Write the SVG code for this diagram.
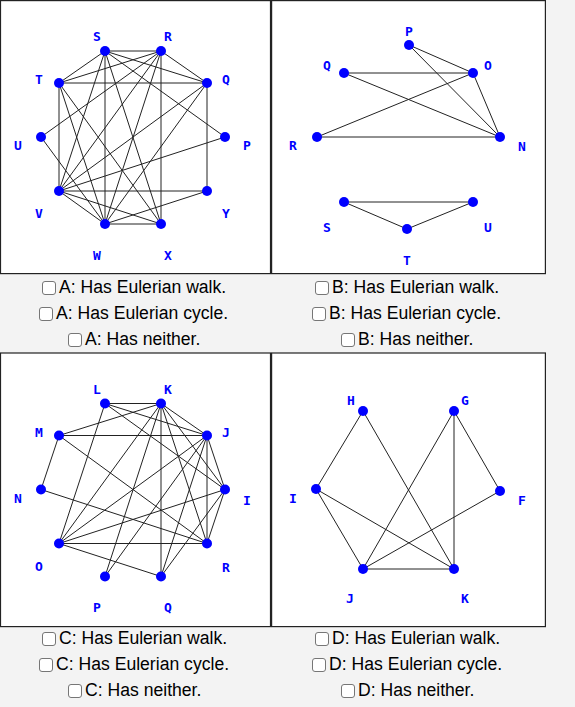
<svg xmlns="http://www.w3.org/2000/svg" width="575" height="707" viewBox="0 0 575 707">
<defs>
<style>
.bg{fill:#f3f3f3}
.panel{fill:#ffffff;stroke:#222;stroke-width:1.2}
.e line{stroke:#222;stroke-width:1}
.n circle{fill:#0000ff}
.n text{fill:#0000ff;font-family:"DejaVu Sans Mono",monospace;font-weight:bold;font-size:13px;text-anchor:middle;dominant-baseline:central}
.cb{fill:#fff;stroke:#767676;stroke-width:1}
.opt{font-family:"Liberation Sans",Arial,sans-serif;font-size:17.6px;fill:#000}
</style>
</defs>
<rect class="bg" x="0" y="0" width="575" height="707"/>
<rect class="panel" x="0.5" y="0.6" width="270" height="273"/>
<rect class="panel" x="271.6" y="0.6" width="273.8" height="273"/>
<rect class="panel" x="0.5" y="353" width="270" height="273.6"/>
<rect class="panel" x="271.6" y="353" width="273.8" height="273.6"/>

<!-- Panel A connectors -->
<g id="edges-A" class="e">
<line x1="105" y1="51" x2="161" y2="51"/>
<line x1="59" y1="83" x2="207" y2="83"/>
<line x1="59" y1="191" x2="207" y2="191"/>
<line x1="105" y1="224" x2="161" y2="224"/>
<line x1="59" y1="83" x2="59" y2="191"/>
<line x1="207" y1="83" x2="207" y2="191"/>
<line x1="105" y1="51" x2="105" y2="224"/>
<line x1="161" y1="51" x2="161" y2="224"/>
<line x1="105" y1="51" x2="59" y2="83"/>
<line x1="161" y1="51" x2="59" y2="83"/>
<line x1="105" y1="51" x2="207" y2="83"/>
<line x1="161" y1="51" x2="207" y2="83"/>
<line x1="41" y1="137" x2="161" y2="51"/>
<line x1="41" y1="137" x2="105" y2="224"/>
<line x1="105" y1="51" x2="225" y2="137"/>
<line x1="225" y1="137" x2="59" y2="191"/>
<line x1="59" y1="83" x2="105" y2="224"/>
<line x1="59" y1="83" x2="161" y2="224"/>
<line x1="59" y1="191" x2="105" y2="224"/>
<line x1="59" y1="191" x2="161" y2="224"/>
<line x1="59" y1="191" x2="105" y2="51"/>
<line x1="59" y1="191" x2="161" y2="51"/>
<line x1="59" y1="191" x2="207" y2="83"/>
<line x1="105" y1="224" x2="207" y2="191"/>
<line x1="105" y1="224" x2="207" y2="83"/>
<line x1="105" y1="224" x2="161" y2="51"/>
<line x1="161" y1="224" x2="105" y2="51"/>
</g>

<!-- Panel B connectors -->
<g id="edges-B" class="e">
<line x1="344" y1="73" x2="473" y2="73"/>
<line x1="344" y1="73" x2="500" y2="137"/>
<line x1="409" y1="45" x2="473" y2="73"/>
<line x1="409" y1="45" x2="500" y2="137"/>
<line x1="473" y1="73" x2="317" y2="137"/>
<line x1="473" y1="73" x2="500" y2="137"/>
<line x1="317" y1="137" x2="500" y2="137"/>
<line x1="344" y1="202" x2="473" y2="202"/>
<line x1="344" y1="202" x2="407" y2="229"/>
<line x1="407" y1="229" x2="473" y2="202"/>
</g>

<!-- Panel C connectors -->
<g id="edges-C" class="e">
<line x1="105" y1="403.5" x2="161" y2="403.5"/>
<line x1="59" y1="435.5" x2="207" y2="435.5"/>
<line x1="59" y1="543.5" x2="207" y2="543.5"/>
<line x1="161" y1="403.5" x2="161" y2="576.5"/>
<line x1="207" y1="435.5" x2="207" y2="543.5"/>
<line x1="59" y1="435.5" x2="41" y2="489.5"/>
<line x1="41" y1="489.5" x2="207" y2="543.5"/>
<line x1="59" y1="435.5" x2="207" y2="543.5"/>
<line x1="59" y1="435.5" x2="161" y2="403.5"/>
<line x1="105" y1="403.5" x2="207" y2="435.5"/>
<line x1="105" y1="403.5" x2="225" y2="489.5"/>
<line x1="105" y1="403.5" x2="59" y2="543.5"/>
<line x1="161" y1="403.5" x2="207" y2="435.5"/>
<line x1="161" y1="403.5" x2="225" y2="489.5"/>
<line x1="161" y1="403.5" x2="207" y2="543.5"/>
<line x1="161" y1="403.5" x2="105" y2="576.5"/>
<line x1="161" y1="403.5" x2="59" y2="543.5"/>
<line x1="207" y1="435.5" x2="225" y2="489.5"/>
<line x1="207" y1="435.5" x2="59" y2="543.5"/>
<line x1="207" y1="435.5" x2="105" y2="576.5"/>
<line x1="207" y1="435.5" x2="161" y2="576.5"/>
<line x1="225" y1="489.5" x2="59" y2="543.5"/>
<line x1="225" y1="489.5" x2="161" y2="576.5"/>
<line x1="225" y1="489.5" x2="207" y2="543.5"/>
<line x1="59" y1="543.5" x2="161" y2="576.5"/>
</g>

<!-- Panel D connectors -->
<g id="edges-D" class="e">
<line x1="363" y1="411" x2="316" y2="489"/>
<line x1="363" y1="411" x2="454" y2="569"/>
<line x1="454" y1="411" x2="363" y2="569"/>
<line x1="454" y1="411" x2="454" y2="569"/>
<line x1="454" y1="411" x2="500" y2="491"/>
<line x1="316" y1="489" x2="363" y2="569"/>
<line x1="316" y1="489" x2="454" y2="569"/>
<line x1="500" y1="491" x2="363" y2="569"/>
<line x1="363" y1="569" x2="454" y2="569"/>
</g>

<!-- Panel A nodes -->
<g id="A-S" class="n"><circle cx="105" cy="51" r="5"/><text x="97" y="36">S</text></g>
<g id="A-R" class="n"><circle cx="161" cy="51" r="5"/><text x="168" y="36">R</text></g>
<g id="A-T" class="n"><circle cx="59" cy="83" r="5"/><text x="39" y="79">T</text></g>
<g id="A-Q" class="n"><circle cx="207" cy="83" r="5"/><text x="226" y="79">Q</text></g>
<g id="A-U" class="n"><circle cx="41" cy="137" r="5"/><text x="18" y="145">U</text></g>
<g id="A-P" class="n"><circle cx="225" cy="137" r="5"/><text x="247" y="145">P</text></g>
<g id="A-V" class="n"><circle cx="59" cy="191" r="5"/><text x="39" y="213">V</text></g>
<g id="A-Y" class="n"><circle cx="207" cy="191" r="5"/><text x="226" y="213">Y</text></g>
<g id="A-W" class="n"><circle cx="105" cy="224" r="5"/><text x="97" y="255">W</text></g>
<g id="A-X" class="n"><circle cx="161" cy="224" r="5"/><text x="168" y="255">X</text></g>

<!-- Panel B nodes -->
<g id="B-P" class="n"><circle cx="409" cy="45" r="5"/><text x="409" y="31">P</text></g>
<g id="B-Q" class="n"><circle cx="344" cy="73" r="5"/><text x="327" y="65">Q</text></g>
<g id="B-O" class="n"><circle cx="473" cy="73" r="5"/><text x="488" y="65">O</text></g>
<g id="B-R" class="n"><circle cx="317" cy="137" r="5"/><text x="293" y="145">R</text></g>
<g id="B-N" class="n"><circle cx="500" cy="137" r="5"/><text x="522" y="146">N</text></g>
<g id="B-S" class="n"><circle cx="344" cy="202" r="5"/><text x="327" y="227">S</text></g>
<g id="B-U" class="n"><circle cx="473" cy="202" r="5"/><text x="488" y="227">U</text></g>
<g id="B-T" class="n"><circle cx="407" cy="229" r="5"/><text x="407" y="260">T</text></g>

<!-- Panel C nodes -->
<g id="C-L" class="n"><circle cx="105" cy="403.5" r="5"/><text x="97" y="389">L</text></g>
<g id="C-K" class="n"><circle cx="161" cy="403.5" r="5"/><text x="168" y="389">K</text></g>
<g id="C-M" class="n"><circle cx="59" cy="435.5" r="5"/><text x="39" y="432">M</text></g>
<g id="C-J" class="n"><circle cx="207" cy="435.5" r="5"/><text x="226" y="432">J</text></g>
<g id="C-N" class="n"><circle cx="41" cy="489.5" r="5"/><text x="18" y="498">N</text></g>
<g id="C-I" class="n"><circle cx="225" cy="489.5" r="5"/><text x="247" y="500">I</text></g>
<g id="C-O" class="n"><circle cx="59" cy="543.5" r="5"/><text x="39" y="566">O</text></g>
<g id="C-R" class="n"><circle cx="207" cy="543.5" r="5"/><text x="226" y="567">R</text></g>
<g id="C-P" class="n"><circle cx="105" cy="576.5" r="5"/><text x="97" y="607">P</text></g>
<g id="C-Q" class="n"><circle cx="161" cy="576.5" r="5"/><text x="168" y="607">Q</text></g>

<!-- Panel D nodes -->
<g id="D-H" class="n"><circle cx="363" cy="411" r="5"/><text x="351" y="400">H</text></g>
<g id="D-G" class="n"><circle cx="454" cy="411" r="5"/><text x="465" y="400">G</text></g>
<g id="D-I" class="n"><circle cx="316" cy="489" r="5"/><text x="293" y="498">I</text></g>
<g id="D-F" class="n"><circle cx="500" cy="491" r="5"/><text x="522" y="500">F</text></g>
<g id="D-J" class="n"><circle cx="363" cy="569" r="5"/><text x="350" y="598">J</text></g>
<g id="D-K" class="n"><circle cx="454" cy="569" r="5"/><text x="465" y="598">K</text></g>

<!-- Options -->
<g id="options-A">
<rect class="cb" x="42.5" y="281.5" width="13" height="13" rx="2.5"/><text class="opt" x="59" y="293">A: Has Eulerian walk.</text>
<rect class="cb" x="39.5" y="307.5" width="13" height="13" rx="2.5"/><text class="opt" x="56" y="319">A: Has Eulerian cycle.</text>
<rect class="cb" x="68.5" y="333.5" width="13" height="13" rx="2.5"/><text class="opt" x="85" y="345">A: Has neither.</text>
</g>
<g id="options-B">
<rect class="cb" x="315.5" y="281.5" width="13" height="13" rx="2.5"/><text class="opt" x="332" y="293">B: Has Eulerian walk.</text>
<rect class="cb" x="312.5" y="307.5" width="13" height="13" rx="2.5"/><text class="opt" x="329" y="319">B: Has Eulerian cycle.</text>
<rect class="cb" x="341.5" y="333.5" width="13" height="13" rx="2.5"/><text class="opt" x="358" y="345">B: Has neither.</text>
</g>
<g id="options-C">
<rect class="cb" x="42.5" y="632.5" width="13" height="13" rx="2.5"/><text class="opt" x="59" y="644">C: Has Eulerian walk.</text>
<rect class="cb" x="39.5" y="658.5" width="13" height="13" rx="2.5"/><text class="opt" x="56" y="670">C: Has Eulerian cycle.</text>
<rect class="cb" x="68.5" y="684.5" width="13" height="13" rx="2.5"/><text class="opt" x="85" y="696">C: Has neither.</text>
</g>
<g id="options-D">
<rect class="cb" x="315.5" y="632.5" width="13" height="13" rx="2.5"/><text class="opt" x="332" y="644">D: Has Eulerian walk.</text>
<rect class="cb" x="312.5" y="658.5" width="13" height="13" rx="2.5"/><text class="opt" x="329" y="670">D: Has Eulerian cycle.</text>
<rect class="cb" x="341.5" y="684.5" width="13" height="13" rx="2.5"/><text class="opt" x="358" y="696">D: Has neither.</text>
</g>
</svg>
